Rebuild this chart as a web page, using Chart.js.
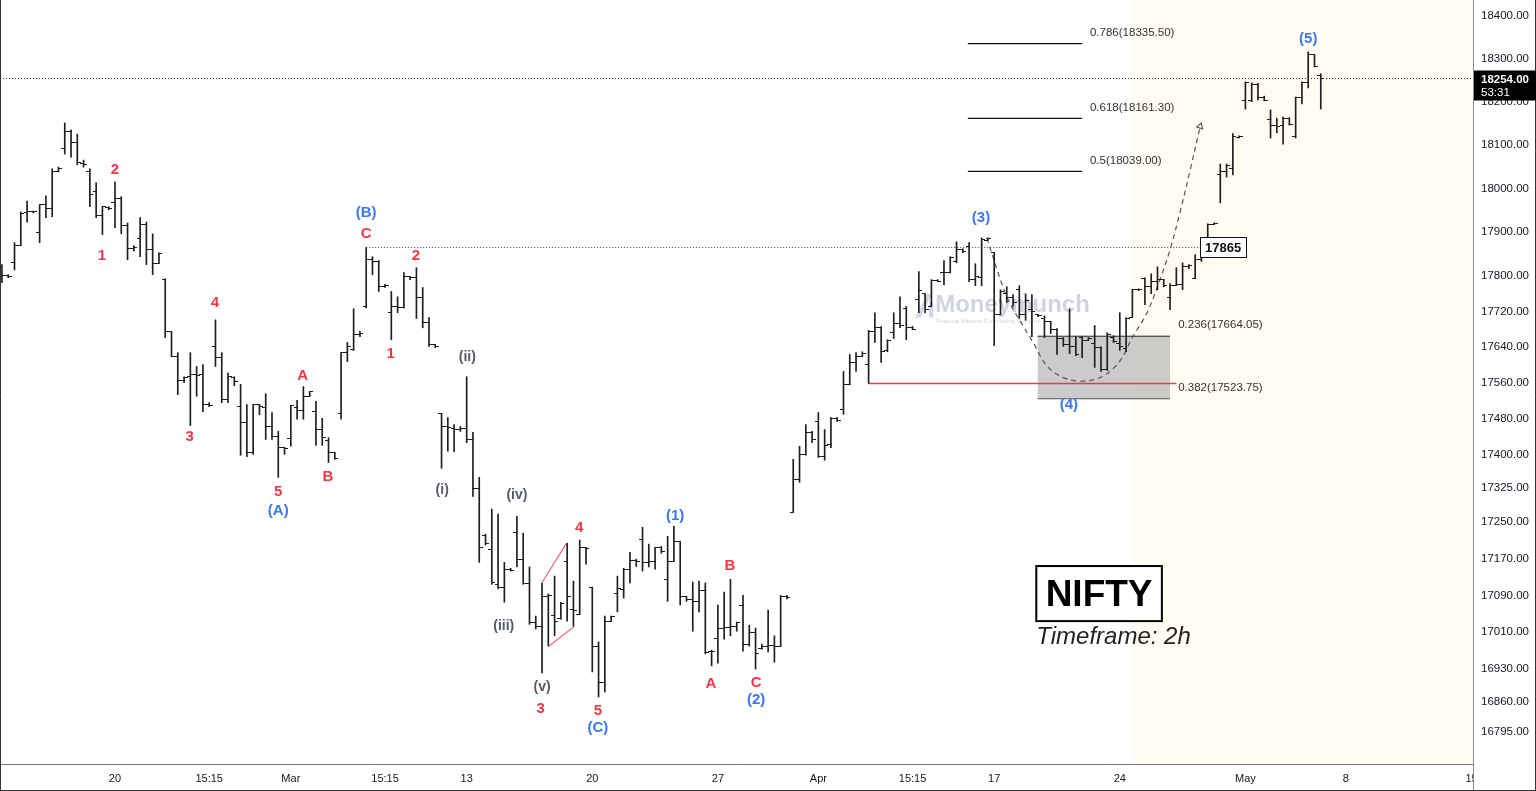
<!DOCTYPE html>
<html><head><meta charset="utf-8">
<script src="https://cdn.jsdelivr.net/npm/chart.js@4.4.1/dist/chart.umd.min.js"></script>
<style>html,body{margin:0;padding:0;background:#fff;overflow:hidden}canvas{display:block}</style>
</head><body>
<canvas id="c" width="1536" height="791"></canvas>
<script>
// ---------- DATA ----------
const firstBarIndex = -18; // bar index of first bar (index 0 = 20 Feb 09:15)
const opens  = [17798,17801,17830,17869,17944,17946,17898,17962,17953,18040,18091,18132,18105,18058,18038,17992,17937,17957,
17967,17978,17914,17862,17885,17917,17860,17828,17792,17674,17618,17564,17573,17578,17577,17511,17641,17616,17522,17571,
17507,17471,17404,17510,17504,17462,17440,17415,17435,17504,17497,17529,17495,17455,17431,17404,17491,17627,17634,17668,
17731,17837,17833,17776,17717,17731,17729,17798,17796,17751,17695,17645,17491,17462,17458,17455,17458,17433,17325,17222,
17191,17114,17108,17147,17228,17169,17115,17032,17023,17088,17047,17040,17165,17060,17049,17195,17108,16980,16902,17034,
17093,17103,17147,17166,17213,17162,17165,17195,17125,17164,17208,17088,17082,17077,17101,16969,16997,17017,17021,17023,
17067,16984,17010,16975,16978,16981,16980,17088,17272,17345,17400,17448,17473,17395,17422,17480,17500,17556,17605,17618,
17600,17674,17683,17631,17672,17692,17726,17684,17747,17760,17731,17790,17808,17807,17832,17860,17867,17792,17796,17882,
17853,17713,17760,17752,17769,17713,17724,17712,17704,17697,17679,17659,17645,17641,17661,17654,17647,17638,17589,17662,
17647,17636,17706,17769,17794,17776,17787,17792,17751,17778,17780,17821,17794,17837,17883,17917,18033,18040,18045,18118,
18204,18204,18239,18211,18158,18144,18146,18162,18119,18209,18244,18309,18262];
const highs  = [17826,17803,17876,17946,17971,17948,17962,17983,18045,18049,18151,18135,18125,18065,18045,18013,17958,17958,
18015,17981,17921,17869,17933,17923,17896,17853,17794,17674,17627,17573,17627,17596,17600,17515,17701,17627,17582,17573,
17556,17511,17511,17511,17535,17493,17451,17415,17509,17520,17551,17540,17518,17480,17437,17404,17627,17650,17726,17675,
17865,17844,17835,17781,17765,17753,17808,17799,17819,17774,17706,17645,17491,17482,17466,17462,17573,17449,17349,17224,
17279,17268,17162,17149,17263,17226,17152,17045,17117,17093,17132,17075,17204,17121,17211,17195,17108,16989,17045,17045,
17132,17149,17184,17169,17239,17202,17195,17197,17219,17241,17208,17088,17119,17121,17117,16971,17069,17097,17125,17032,
17090,17025,17019,16984,17058,17002,17090,17090,17389,17418,17466,17451,17493,17455,17482,17482,17585,17623,17627,17629,
17677,17717,17686,17656,17717,17753,17731,17686,17810,17760,17792,17792,17835,17844,17878,17862,17876,17828,17887,17887,
17853,17769,17776,17758,17778,17760,17758,17713,17710,17697,17681,17661,17726,17663,17663,17661,17688,17640,17672,17665,
17717,17706,17769,17771,17796,17805,17821,17792,17783,17819,17830,17826,17849,17858,17919,17921,18056,18056,18126,18121,
18246,18244,18243,18213,18181,18162,18165,18163,18211,18246,18316,18309,18265];
const lows   = [17785,17796,17814,17869,17923,17944,17876,17933,17935,18038,18079,18072,18054,18049,17958,17933,17894,17951,
17910,17896,17837,17857,17844,17826,17803,17828,17661,17618,17533,17560,17464,17529,17495,17506,17596,17515,17515,17553,
17398,17395,17400,17488,17433,17433,17349,17400,17418,17478,17478,17529,17420,17420,17382,17389,17478,17607,17632,17663,
17728,17803,17765,17774,17656,17717,17728,17792,17704,17683,17641,17638,17369,17407,17406,17451,17426,17307,17162,17200,
17114,17104,17075,17143,17152,17114,17027,17017,16922,16980,17002,17038,17034,17023,17049,17158,16924,16870,16881,17034,
17054,17084,17117,17153,17143,17152,17147,17182,17077,17164,17069,17077,17012,17054,16963,16937,16943,16995,17002,17012,
16969,16980,16930,16973,16967,16945,16980,17082,17272,17338,17398,17426,17393,17387,17415,17473,17489,17555,17585,17618,
17558,17650,17605,17629,17659,17683,17656,17679,17717,17717,17731,17787,17780,17807,17830,17853,17787,17778,17778,17882,
17643,17712,17740,17731,17704,17700,17663,17708,17661,17670,17623,17641,17625,17620,17616,17654,17594,17585,17587,17650,
17632,17629,17706,17767,17735,17760,17769,17776,17724,17778,17769,17817,17794,17833,17876,17917,17967,18026,18031,18116,
18183,18200,18204,18202,18116,18128,18102,18146,18116,18195,18232,18281,18183];
const closes = [17801,17800,17869,17942,17946,17947,17962,17953,18040,18045,18132,18105,18059,18054,17985,17937,17958,17953,
17978,17914,17862,17865,17917,17860,17828,17851,17674,17619,17564,17571,17578,17576,17511,17508,17616,17522,17573,17562,
17471,17404,17510,17506,17462,17440,17415,17414,17508,17497,17529,17539,17455,17438,17404,17391,17627,17640,17668,17671,
17837,17833,17776,17778,17731,17729,17798,17796,17751,17695,17645,17640,17462,17460,17455,17458,17433,17325,17195,17204,
17119,17108,17147,17145,17169,17115,17032,17023,17088,17090,17034,17073,17088,17056,17195,17193,16980,16902,17034,17044,
17104,17147,17167,17163,17162,17165,17195,17185,17165,17208,17088,17080,17077,17101,16965,16969,17017,17021,17023,17030,
16984,17010,16963,16980,16981,16980,17088,17086,17345,17400,17449,17433,17395,17420,17480,17476,17556,17605,17618,17625,
17674,17683,17629,17654,17692,17688,17684,17680,17767,17724,17790,17788,17807,17842,17860,17855,17792,17799,17883,17885,
17713,17765,17752,17740,17713,17745,17719,17710,17697,17679,17659,17645,17641,17623,17654,17659,17638,17589,17668,17652,
17640,17704,17769,17770,17776,17787,17792,17778,17778,17780,17821,17824,17837,17855,17917,17919,18040,18052,18119,18120,
18245,18239,18211,18203,18144,18142,18162,18147,18209,18244,18309,18283,18254];

const xTickIndex  = [0,15,28,43,56,76,96,112,127,140,160,180,196,216];
const xTickLabels = ['20','15:15','Mar','15:15','13','20','27','Apr','15:15','17','24','May','8','15'];
const yTickValues = [18400,18300,18200,18100,18000,17900,17800,17720,17640,17560,17480,17400,17325,17250,17170,17090,17010,16930,16860,16795];
const xMin = -18.31, xMax = 216.24;
const yMin = 16726.5, yMax = 18437.6;

const currentPrice = 18254;
const countdown = '53:31';
const breakLevel = 17865;     // dotted level from (B) high
const breakFromIdx = 40, breakToIdx = 172.8;
const fibNames  = ['0.786','0.618','0.5'];
const fibLevels = [18335.50, 18161.30, 18039.00];
const fibFromIdx = 135.8, fibToIdx = 154.0, fibLabelIdx = 155.25;
const zoneNames  = ['0.236','0.382'];
const zoneLevels = [17664.05, 17523.75];
const zoneFromIdx = 146.9, zoneToIdx = 168.0, zoneLabelIdx = 169.3;
const redLevel = 17558, redFromIdx = 120, redToIdx = 169;
const highlightStartIdx = 162.1;
const curveIdx   = [138.8,142.0,144.1,146.2,148.4,151.0,154.1,157.3,160.0,162.1,164.3,166.4,168.0,169.6,171.2,172.8];
const curvePrice = [17887,17753,17699,17650,17597,17571,17563,17574,17608,17664,17716,17792,17860,17946,18042,18143];
const wedgeUpperIdx = [68.0,71.9], wedgeUpperPrice = [17118,17204];
const wedgeLowerIdx = [69.0,73.1], wedgeLowerPrice = [16979,17022];

const redLabels = [['2',0,18042],['1',-2.1,17846],['4',15.9,17740],['3',11.9,17438],['A',29.9,17576],['B',33.9,17351],
 ['5',26.0,17318],['C',40.0,17896],['2',47.9,17846],['1',43.9,17625],['4',73.9,17237],['3',67.8,16844],['5',76.9,16840],
 ['A',94.9,16898],['B',97.9,17154],['C',102.1,16900]];
const blueLabels = [['(B)',40,17944],['(A)',26,17276],['(C)',76.9,16804],['(1)',89.2,17263],['(2)',102.1,16864],
 ['(3)',137.9,17933],['(4)',151.9,17511],['(5)',190,18346]];
const grayLabels = [['(ii)',56.1,17618],['(i)',52.1,17320],['(iv)',64,17309],['(iii)',61.9,17023],['(v)',68,16891]];

const titleText = 'NIFTY', subText = 'Timeframe: 2h';
const titleBox = {i0:146.7, i1:166.7, p0:17154, p1:17034};
const subPos = {i:146.7, p:16999};
const watermark = {text:'Moneymunch', i:130.6, p:17733};

// ---------- BUILD ----------
const idxs = opens.map((_, k) => firstBarIndex + k);
const hl = idxs.map((x, k) => ({x, y:[lows[k], highs[k]]}));
const op = idxs.map((x, k) => ({x, y:opens[k]}));
const cl = idxs.map((x, k) => ({x, y:closes[k]}));
const BAR = '#1e1e1e', RED = '#f23645', BLUE = '#3b78f2', GRAY = '#555b66';
function tick(side){ const c=document.createElement('canvas'); c.width=7; c.height=1; const g=c.getContext('2d'); g.fillStyle=BAR; g.fillRect(side==='L'?0:3,0,4,1); return c; }
const seg = (xs, ys) => xs.map((x,k)=>({x, y:ys[k]}));
const hline = (a,b,v) => [{x:a,y:v},{x:b,y:v}];
const lineDs = (data, color, extra) => Object.assign({type:'line', data, borderColor:color, borderWidth:1, pointRadius:0, fill:false, tension:0, order:5}, extra||{});

const datasets = [
  {type:'scatter', data:op, pointStyle:tick('L'), pointRadius:1, order:0},
  {type:'scatter', data:cl, pointStyle:tick('R'), pointRadius:1, order:0},
  {type:'bar', data:hl, backgroundColor:BAR, barThickness:1, grouped:false, order:1},
  lineDs(hline(zoneFromIdx, zoneToIdx, zoneLevels[0]), '#222', {fill:{value:zoneLevels[1]}, backgroundColor:'rgba(140,140,140,0.45)', order:9}),
  lineDs(hline(zoneFromIdx, zoneToIdx, zoneLevels[1]), '#555'),
  lineDs(hline(redFromIdx, redToIdx, redLevel), RED, {borderWidth:1.4}),
  lineDs(hline(breakFromIdx, breakToIdx, breakLevel), '#444', {borderDash:[1,2]}),
  lineDs(hline(xMin, xMax, currentPrice), '#333', {borderDash:[1,2]}),
  ...fibLevels.map(v => lineDs(hline(fibFromIdx, fibToIdx, v), '#111', {borderWidth:1.2})),
  lineDs(seg(wedgeUpperIdx, wedgeUpperPrice), '#f0606e', {borderWidth:1.2}),
  lineDs(seg(wedgeLowerIdx, wedgeLowerPrice), '#f0606e', {borderWidth:1.2}),
  lineDs(seg(curveIdx, curvePrice), '#555', {borderDash:[5,4], borderWidth:1.2, tension:0.35,
     pointRadius: curveIdx.map((_,k)=>k===curveIdx.length-1?3.5:0), pointStyle:'triangle', rotation:18,
     pointBackgroundColor:'rgba(0,0,0,0)', pointBorderColor:'#555', pointBorderWidth:1.2, order:3}),
];

const FONT = '"Liberation Sans", Arial, sans-serif';
const annot = {
  id:'annot',
  beforeDatasetsDraw(chart){
    const {ctx, chartArea:a, scales:s} = chart;
    ctx.save();
    const xh = s.x.getPixelForValue(highlightStartIdx);
    ctx.fillStyle = '#fffdf2';
    ctx.fillRect(xh, a.top, a.right - xh, a.bottom - a.top);
    ctx.font = 'bold 24px ' + FONT;
    ctx.fillStyle = 'rgba(150,160,185,0.45)';
    ctx.textBaseline = 'middle'; ctx.textAlign = 'left';
    const wx = s.x.getPixelForValue(watermark.i), wy = s.y.getPixelForValue(watermark.p);
    ctx.fillText(watermark.text, wx, wy);
    ctx.font = '6px ' + FONT;
    ctx.fillText('Financial Markets Forecasting Services', wx, wy + 16);
    ctx.fillStyle = 'rgba(120,140,190,0.35)';
    ctx.beginPath(); ctx.moveTo(wx-20, wy+12); ctx.lineTo(wx-8, wy-12); ctx.lineTo(wx-3, wy-12); ctx.lineTo(wx-15, wy+12); ctx.fill();
    ctx.fillRect(wx-6, wy-4, 4, 16);
    ctx.restore();
  },
  afterDatasetsDraw(chart){
    const {ctx, scales:s} = chart;
    const X = v => s.x.getPixelForValue(v), Y = v => s.y.getPixelForValue(v);
    ctx.save();
    ctx.textAlign = 'center'; ctx.textBaseline = 'middle';
    ctx.font = 'bold 15px ' + FONT;
    ctx.fillStyle = RED; redLabels.forEach(([t,i,p]) => ctx.fillText(t, X(i), Y(p)));
    ctx.fillStyle = BLUE; blueLabels.forEach(([t,i,p]) => ctx.fillText(t, X(i), Y(p)));
    ctx.font = 'bold 14px ' + FONT;
    ctx.fillStyle = GRAY; grayLabels.forEach(([t,i,p]) => ctx.fillText(t, X(i), Y(p)));
    // fib labels
    ctx.font = '11.5px ' + FONT;
    ctx.fillStyle = '#333'; ctx.textAlign = 'left';
    fibLevels.forEach((v,k) => ctx.fillText(fibNames[k] + '(' + v.toFixed(2) + ')', X(fibLabelIdx), Y(v) - 11));
    zoneLevels.forEach((v,k) => ctx.fillText(zoneNames[k] + '(' + v.toFixed(2) + ')', X(zoneLabelIdx), Y(v) - 11));
    // 17865 label
    const bx = X(breakToIdx), by = Y(breakLevel);
    ctx.fillStyle = '#fff'; ctx.fillRect(bx, by-10, 46, 20);
    ctx.strokeStyle = '#111'; ctx.lineWidth = 1; ctx.strokeRect(Math.round(bx)+0.5, Math.round(by-10)+0.5, 46, 20);
    ctx.fillStyle = '#111'; ctx.font = 'bold 13px ' + FONT; ctx.textAlign = 'center';
    ctx.fillText(String(breakLevel), bx + 23, by + 1);
    // title box
    const tx0 = X(titleBox.i0), tx1 = X(titleBox.i1), ty0 = Y(titleBox.p0), ty1 = Y(titleBox.p1);
    ctx.fillStyle = '#fff'; ctx.fillRect(tx0, ty0, tx1-tx0, ty1-ty0);
    ctx.strokeStyle = '#000'; ctx.lineWidth = 2; ctx.strokeRect(tx0, ty0, tx1-tx0, ty1-ty0);
    ctx.fillStyle = '#000'; ctx.font = 'bold 37px ' + FONT;
    ctx.fillText(titleText, (tx0+tx1)/2, (ty0+ty1)/2 + 2);
    ctx.textAlign = 'left'; ctx.font = 'italic 24px ' + FONT; ctx.fillStyle = '#222';
    ctx.fillText(subText, X(subPos.i), Y(subPos.p));
    ctx.restore();
  },
  afterDraw(chart){
    const {ctx, chartArea:a, scales:s} = chart;
    ctx.save();
    ctx.fillStyle = '#fff'; ctx.fillRect(a.right+1, a.bottom+1, 1536-a.right-1, 791-a.bottom-2);
    ctx.strokeStyle = '#777'; ctx.lineWidth = 1;
    ctx.beginPath(); ctx.moveTo(0, a.bottom+0.5); ctx.lineTo(a.right, a.bottom+0.5); ctx.stroke();
    ctx.strokeStyle = '#8a8a8a';
    ctx.beginPath(); ctx.moveTo(a.right+0.5, 0); ctx.lineTo(a.right+0.5, 791); ctx.stroke();
    ctx.strokeStyle = '#333';
    ctx.beginPath(); ctx.moveTo(0.5,0); ctx.lineTo(0.5,791); ctx.moveTo(0,790.5); ctx.lineTo(1536,790.5); ctx.moveTo(1535.5,0); ctx.lineTo(1535.5,791); ctx.stroke();
    // price box
    const py = s.y.getPixelForValue(currentPrice);
    ctx.fillStyle = '#000'; ctx.fillRect(a.right+1, py-8, 1536-a.right-1, 30);
    ctx.fillStyle = '#fff'; ctx.textAlign = 'left'; ctx.textBaseline = 'middle';
    ctx.font = 'bold 11.5px ' + FONT;
    ctx.fillText(currentPrice.toFixed(2), a.right + 8, py + 1);
    ctx.font = '11.5px ' + FONT;
    ctx.fillText(countdown, a.right + 8, py + 14);
    ctx.restore();
  }
};

const zeroPad = sc => { sc.paddingTop = 0; sc.paddingBottom = 0; sc.paddingLeft = 0; sc.paddingRight = 0; };

new Chart(document.getElementById('c'), {
  type:'bar',
  data:{datasets},
  options:{
    responsive:false, animation:false, events:[], devicePixelRatio:1,
    layout:{padding:0, autoPadding:false},
    plugins:{legend:{display:false}, tooltip:{enabled:false}},
    scales:{
      x:{type:'linear', min:xMin, max:xMax, offset:false, bounds:'data',
         grid:{display:false, drawTicks:false}, border:{display:false},
         afterBuildTicks(sc){ sc.ticks = xTickIndex.map(v=>({value:v})); },
         afterFit(sc){ sc.height = 27; zeroPad(sc); },
         ticks:{autoSkip:false, maxRotation:0, padding:8, color:'#131722',
                font:{size:11, family:FONT},
                callback:(v)=>{ const k = xTickIndex.indexOf(v); return k>=0 ? xTickLabels[k] : ''; }}},
      y:{type:'logarithmic', position:'right', min:yMin, max:yMax, bounds:'data',
         grid:{display:false, drawTicks:false}, border:{display:false},
         afterBuildTicks(sc){ sc.ticks = yTickValues.map(v=>({value:v})); },
         afterFit(sc){ sc.width = 63; zeroPad(sc); },
         ticks:{autoSkip:false, padding:8, color:'#131722',
                font:{size:11.5, family:FONT},
                callback:(v)=>Number(v).toFixed(2)}}
    }
  },
  plugins:[annot]
});
</script>
</body></html>
